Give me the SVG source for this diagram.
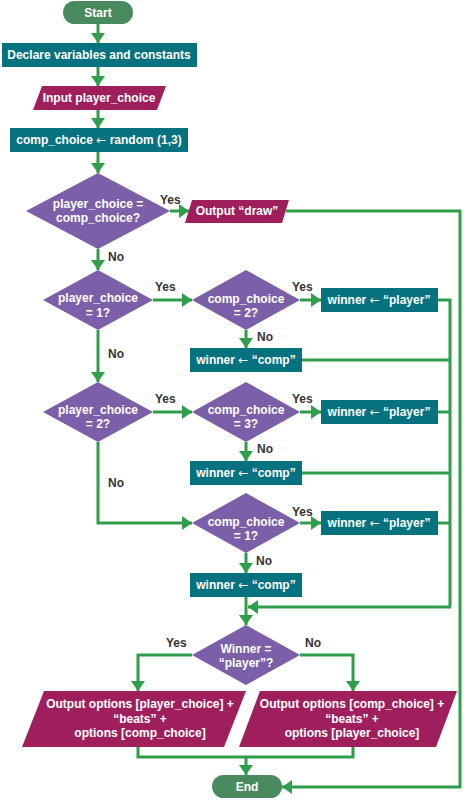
<svg xmlns="http://www.w3.org/2000/svg" width="464" height="800" viewBox="0 0 464 800">
<defs>
<style>
.t{font-family:"Liberation Sans",Arial,sans-serif;font-size:12px;font-weight:bold;fill:#fff;text-anchor:middle}
.l{font-family:"Liberation Sans",Arial,sans-serif;font-size:12px;font-weight:bold;fill:#333}
.ar{font-family:"DejaVu Sans",sans-serif;font-weight:normal}
.term{fill:#4a8a5f}
.proc{fill:#06717f}
.io{fill:#9e1f5c}
.dec{fill:#7b5fa8}
.c{fill:none;stroke:#2e9e4a;stroke-width:3}
.a{marker-end:url(#ah)}
</style>
<marker id="ah" markerUnits="userSpaceOnUse" markerWidth="10" markerHeight="14" refX="10" refY="7" orient="auto">
<path d="M0,0 L10,7 L0,14 z" fill="#2e9e4a"/>
</marker>
</defs>
<rect width="464" height="800" fill="#fff"/>
<g id="connectors">
<path class="c a" d="M98,24 V43"/>
<path class="c a" d="M98,67 V86"/>
<path class="c a" d="M98,110 V128"/>
<path class="c a" d="M98,152 V173"/>
<path class="c a" d="M170,211 H189"/>
<path class="c a" d="M286,211 H460 V787 H282"/>
<path class="c a" d="M98,249 V270"/>
<path class="c a" d="M153,300 H192"/>
<path class="c a" d="M300,300 H321"/>
<path class="c a" d="M246,330 V348"/>
<path class="c" d="M438,300 H450 V607"/>
<path class="c" d="M302,360 H450"/>
<path class="c a" d="M98,330 V382"/>
<path class="c a" d="M153,412 H192"/>
<path class="c a" d="M300,412 H321"/>
<path class="c a" d="M246,442 V461"/>
<path class="c" d="M438,412 H450"/>
<path class="c" d="M302,473 H450"/>
<path class="c a" d="M98,442 V523 H192"/>
<path class="c a" d="M300,523 H321"/>
<path class="c a" d="M246,553 V573"/>
<path class="c" d="M438,523 H450"/>
<path class="c a" d="M246,597 V625"/>
<path class="c a" d="M451,607 H248"/>
<path class="c a" d="M192,655 H138 V691"/>
<path class="c a" d="M300,655 H353 V691"/>
<path class="c" d="M138,747 V757 H353 V747"/>
<path class="c a" d="M246,757 V775"/>
</g>
<g id="labels">
<text class="l" x="160" y="204">Yes</text>
<text class="l" x="108" y="261">No</text>
<text class="l" x="155" y="291">Yes</text>
<text class="l" x="108" y="358">No</text>
<text class="l" x="292" y="291">Yes</text>
<text class="l" x="257" y="341">No</text>
<text class="l" x="155" y="403">Yes</text>
<text class="l" x="108" y="487">No</text>
<text class="l" x="292" y="403">Yes</text>
<text class="l" x="257" y="453">No</text>
<text class="l" x="292" y="516">Yes</text>
<text class="l" x="256" y="565">No</text>
<text class="l" x="166" y="647">Yes</text>
<text class="l" x="305" y="647">No</text>
</g>
<g id="start">
<rect class="term" x="63" y="1" width="70" height="23" rx="11.5"/>
<text class="t" x="98" y="17">Start</text>
</g>
<g id="declare">
<rect class="proc" x="2" y="43" width="195" height="24"/>
<text class="t" x="99" y="59">Declare variables and constants</text>
</g>
<g id="input">
<polygon class="io" points="42,86 166,86 157,110 33,110"/>
<text class="t" x="99" y="102">Input player_choice</text>
</g>
<g id="random">
<rect class="proc" x="10" y="128" width="178" height="24"/>
<text class="t" x="99" y="144">comp_choice <tspan class="ar">←</tspan> random (1,3)</text>
</g>
<g id="d1">
<polygon class="dec" points="98,173 170,211 98,249 26,211"/>
<text class="t" x="98" y="208">player_choice =</text>
<text class="t" x="98" y="222">comp_choice?</text>
</g>
<g id="draw">
<polygon class="io" points="192,200 289,200 282,223 185,223"/>
<text class="t" x="237" y="215">Output “draw”</text>
</g>
<g id="d2">
<polygon class="dec" points="98,270 153,300 98,330 43,300"/>
<text class="t" x="98" y="302">player_choice</text>
<text class="t" x="98" y="317">= 1?</text>
</g>
<g id="d3">
<polygon class="dec" points="246,270 300,300 246,330 192,300"/>
<text class="t" x="246" y="303">comp_choice</text>
<text class="t" x="246" y="317">= 2?</text>
</g>
<g id="wp1">
<rect class="proc" x="321" y="288" width="117" height="24"/>
<text class="t" x="379" y="304">winner <tspan class="ar">←</tspan> “player”</text>
</g>
<g id="wc1">
<rect class="proc" x="190" y="348" width="112" height="24"/>
<text class="t" x="246" y="364">winner <tspan class="ar">←</tspan> “comp”</text>
</g>
<g id="d4">
<polygon class="dec" points="98,382 153,412 98,442 43,412"/>
<text class="t" x="98" y="414">player_choice</text>
<text class="t" x="98" y="428">= 2?</text>
</g>
<g id="d5">
<polygon class="dec" points="246,382 300,412 246,442 192,412"/>
<text class="t" x="246" y="414">comp_choice</text>
<text class="t" x="246" y="428">= 3?</text>
</g>
<g id="wp2">
<rect class="proc" x="321" y="400" width="117" height="24"/>
<text class="t" x="379" y="416">winner <tspan class="ar">←</tspan> “player”</text>
</g>
<g id="wc2">
<rect class="proc" x="190" y="461" width="112" height="24"/>
<text class="t" x="246" y="477">winner <tspan class="ar">←</tspan> “comp”</text>
</g>
<g id="d6">
<polygon class="dec" points="246,493 300,523 246,553 192,523"/>
<text class="t" x="246" y="526">comp_choice</text>
<text class="t" x="246" y="540">= 1?</text>
</g>
<g id="wp3">
<rect class="proc" x="321" y="511" width="117" height="24"/>
<text class="t" x="379" y="527">winner <tspan class="ar">←</tspan> “player”</text>
</g>
<g id="wc3">
<rect class="proc" x="190" y="573" width="112" height="24"/>
<text class="t" x="246" y="589">winner <tspan class="ar">←</tspan> “comp”</text>
</g>
<g id="winner">
<polygon class="dec" points="246,625 300,655 246,685 192,655"/>
<text class="t" x="246" y="653">Winner =</text>
<text class="t" x="246" y="667">“player”?</text>
</g>
<g id="outPlayer">
<polygon class="io" points="44,691 246,691 224,747 22,747"/>
<text class="t" x="140" y="708">Output options [player_choice] +</text>
<text class="t" x="140" y="723">“beats” +</text>
<text class="t" x="140" y="737">options [comp_choice]</text>
</g>
<g id="outComp">
<polygon class="io" points="260,691 457,691 436,747 239,747"/>
<text class="t" x="352" y="708">Output options [comp_choice] +</text>
<text class="t" x="352" y="723">“beats” +</text>
<text class="t" x="352" y="737">options [player_choice]</text>
</g>
<g id="end">
<rect class="term" x="212" y="775" width="70" height="23" rx="11.5"/>
<text class="t" x="247" y="791">End</text>
</g>
</svg>
